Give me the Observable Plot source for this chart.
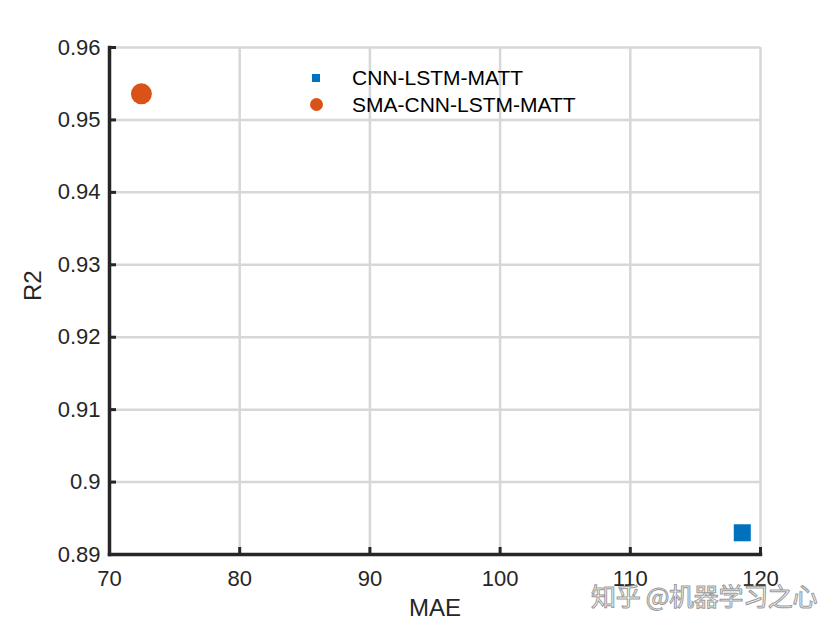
<!DOCTYPE html>
<html>
<head>
<meta charset="utf-8">
<script src="https://cdn.jsdelivr.net/npm/d3@7"></script>
<script src="https://cdn.jsdelivr.net/npm/@observablehq/plot@0.6"></script>
<style>
  body { margin: 0; background: #fff; }
  #wrap { position: relative; width: 840px; height: 630px; font-family: "Liberation Sans", Arial, Helvetica, sans-serif; }
  .leg { position: absolute; left: 300px; top: 64px; font-size: 21px; color: #000; line-height: 27px; }
  .leg .row { display: flex; align-items: center; height: 27px; }
  .leg .mk { width: 32px; display: flex; justify-content: center; margin-right: 20px; }
  .wm { position: absolute; left: 591px; top: 577px; font-size: 25px; color: #fff; font-family: "Noto Sans CJK SC", sans-serif;
        -webkit-text-stroke: 1px #9a9a9a; letter-spacing: -0.3px; }
</style>
</head>
<body>
<div id="wrap"></div>
<script>
const seriesNames = ["CNN-LSTM-MATT", "SMA-CNN-LSTM-MATT"];
const maeValues = [118.6, 72.45];
const r2Values = [0.8930, 0.9536];
const seriesColors = ["#0072BD", "#D95319"];
const seriesSymbols = ["square", "circle"];
const xTicks = [70, 80, 90, 100, 110, 120];
const yTicks = [0.89, 0.90, 0.91, 0.92, 0.93, 0.94, 0.95, 0.96];

const data = seriesNames.map((name, i) => ({name, mae: maeValues[i], r2: r2Values[i], color: seriesColors[i], symbol: seriesSymbols[i]}));

const axisColor = "#262626";
const font = "'Liberation Sans', Arial, Helvetica, sans-serif";

const chart = Plot.plot({
  width: 840,
  height: 630,
  marginLeft: 109,
  marginRight: 80,
  marginTop: 47,
  marginBottom: 76,
  style: {fontFamily: font, color: axisColor, background: "transparent", overflow: "visible"},
  x: {domain: [70, 120]},
  y: {domain: [0.89, 0.96]},
  marks: [
    Plot.gridX({ticks: xTicks, stroke: "#d7d7d7", strokeOpacity: 1, strokeWidth: 2.5}),
    Plot.gridY({ticks: yTicks, stroke: "#d7d7d7", strokeOpacity: 1, strokeWidth: 2.5}),
    Plot.frame({anchor: "left", stroke: axisColor, strokeWidth: 3.5}),
    Plot.frame({anchor: "bottom", stroke: axisColor, strokeWidth: 3.5}),
    // inward ticks
    Plot.axisX({ticks: xTicks, tickSize: 7, dy: -7, strokeWidth: 3, stroke: axisColor, tickFormat: () => "", label: null}),
    Plot.axisY({ticks: yTicks, tickSize: 7, dx: 7, strokeWidth: 3, stroke: axisColor, tickFormat: () => "", label: null}),
    // tick labels
    Plot.axisX({ticks: xTicks, tickSize: 0, tickPadding: 16, fontSize: 22, fill: axisColor, tickFormat: d3.format("~g"), label: null}),
    Plot.axisY({ticks: yTicks, tickSize: 0, tickPadding: 9, fontSize: 22, fill: axisColor, tickFormat: d3.format("~g"), label: null}),
    // axis titles
    Plot.text(["MAE"], {frameAnchor: "bottom", dy: 61, text: d => d, fontSize: 24, fill: axisColor}),
    Plot.text(["R2"], {frameAnchor: "left", dx: -76, rotate: -90, text: d => d, fontSize: 24, fill: axisColor}),
    // points
    Plot.dot(data.filter(d => d.symbol === "circle"), {x: "mae", y: "r2", fill: "color", symbol: "circle", r: 10.5}),
    Plot.dot(data.filter(d => d.symbol === "square"), {x: "mae", y: "r2", fill: "color", symbol: "square", r: 9.6})
  ]
});

const wrap = document.getElementById("wrap");
wrap.appendChild(chart);

const leg = document.createElement("div");
leg.className = "leg";
data.forEach(d => {
  const row = document.createElement("div");
  row.className = "row";
  const mk = document.createElement("div");
  mk.className = "mk";
  const s = document.createElement("span");
  if (d.symbol === "square") {
    s.style.cssText = `display:inline-block;width:8px;height:8px;background:${d.color}`;
  } else {
    s.style.cssText = `display:inline-block;width:13px;height:13px;border-radius:50%;background:${d.color}`;
  }
  mk.appendChild(s);
  const t = document.createElement("span");
  t.textContent = d.name;
  row.appendChild(mk);
  row.appendChild(t);
  leg.appendChild(row);
});
wrap.appendChild(leg);

const wm = document.createElement("div");
wm.className = "wm";
wm.textContent = "知乎 @机器学习之心";
wrap.appendChild(wm);
</script>
</body>
</html>
